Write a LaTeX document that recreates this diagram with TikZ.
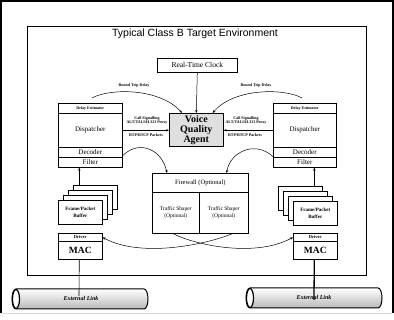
\documentclass[tikz,border=0pt]{standalone}
\usepackage{fontspec}
\setmainfont{Liberation Serif}
\newfontfamily\titlefont{Liberation Sans}
\usetikzlibrary{arrows.meta,calc}
\tikzset{
  box/.style={draw, line width=0.6pt, inner sep=0pt, anchor=north west, fill=white, align=center},
  tinyb/.style={font=\fontsize{4}{4.6}\selectfont\bfseries, inner sep=0pt, align=center},
  arr/.style={-{Stealth[length=3pt,width=2.4pt]}, line width=0.5pt},
  cable/.style={top color=white, bottom color=gray!55, draw=black, line width=1pt},
}
\begin{document}
\begin{tikzpicture}[x=1pt,y=-1pt]
\useasboundingbox (0,0) rectangle (394,320);
% outer frame
\draw[line width=2pt] (1,313) -- (1,1) -- (392.5,1) -- (392.5,313);
\draw[gray!30, line width=0.6pt] (1,313) -- (392.5,313);
% inner frame
\draw[line width=0.8pt] (27,26) rectangle (366,275);
\node[font=\titlefont\fontsize{10.5}{12}\selectfont, inner sep=0pt] (title) at (195,34) {Typical Class B Target Environment};

% clock and VQA
\node[box, minimum width=80pt, minimum height=14pt, font=\fontsize{7.5}{8}\selectfont] (clk) at (157,58) {Real-Time Clock};
\node[box, fill=gray!25, minimum width=54pt, minimum height=33pt, font=\fontsize{10}{10}\selectfont\bfseries] (vqa) at (169,113) {Voice\\Quality\\Agent};
\draw[arr] (clk.south) -- (vqa.north);

% left dispatcher column
\node[box, minimum width=64pt, minimum height=10pt, font=\fontsize{4}{4.6}\selectfont\bfseries] (deL) at (58,103) {Delay Estimator};
\node[box, minimum width=64pt, minimum height=34pt, font=\fontsize{7}{8}\selectfont] (dpL) at (58,113) {Dispatcher};
\node[box, minimum width=64pt, minimum height=10pt, font=\fontsize{7}{8}\selectfont] (dcL) at (58,147) {Decoder};
\node[box, minimum width=64pt, minimum height=10pt, font=\fontsize{7}{8}\selectfont] (flL) at (58,157) {Filter};
% right dispatcher column
\node[box, minimum width=63pt, minimum height=10pt, font=\fontsize{4}{4.6}\selectfont\bfseries] (deR) at (273,103) {Delay Estimator};
\node[box, minimum width=63pt, minimum height=34pt, font=\fontsize{7}{8}\selectfont] (dpR) at (273,113) {Dispatcher};
\node[box, minimum width=63pt, minimum height=10pt, font=\fontsize{7}{8}\selectfont] (dcR) at (273,147) {Decoder};
\node[box, minimum width=63pt, minimum height=10pt, font=\fontsize{7}{8}\selectfont] (flR) at (273,157) {Filter};

% round trip delay arcs
\coordinate (rtLs) at (92,98);
\coordinate (rtRs) at (302,98);
\draw[arr] (rtLs) .. controls (110,88) and (160,88) .. ([xshift=13pt]vqa.north west);
\draw[arr] (rtRs) .. controls (284,88) and (234,88) .. ([xshift=-11pt]vqa.north east);
\node[tinyb] (rtdL) at (134,86) {Round Trip Delay};
\node[tinyb] (rtdR) at (256,86) {Round Trip Delay};

% call signalling
\draw[arr] (dpL.east) -- (dpL.east -| vqa.west);
\draw[arr] (dpR.west) -- (dpR.west -| vqa.east);
\node[tinyb] (csL) at (147,120.5) {Call Signalling\\ALT/TALI/H.323 Proxy};
\node[tinyb] (csR) at (246,120.5) {Call Signalling\\ALT/TALI/H.323 Proxy};
\node[tinyb] (rtpL) at (146,135) {RTP/RTCP Packets};
\node[tinyb] (rtpR) at (245,135) {RTP/RTCP Packets};

% firewall
\node[box, minimum width=96pt, minimum height=19pt, font=\fontsize{6.5}{7}\selectfont] (fw) at (152,173) {Firewall (Optional)};
\node[box, minimum width=47pt, minimum height=41pt, font=\fontsize{5.5}{7}\selectfont] (tsL) at (152,192) {Traffic Shaper\\(Optional)};
\node[box, minimum width=49pt, minimum height=41pt, font=\fontsize{5.5}{7}\selectfont] (tsR) at (199,192) {Traffic Shaper\\(Optional)};

\draw[arr] ([yshift=-8pt]dpL.south east) .. controls (140,139) and (162,150) .. ([xshift=15pt]fw.north west);
\draw[arr] ([yshift=-9pt]dpR.south west) .. controls (255,140) and (230,152) .. ([xshift=-22pt]fw.north east);

% buffers left
\node[box, minimum width=44pt, minimum height=24pt] (bL3) at (72.5,185) {};
\node[box, minimum width=44pt, minimum height=24pt] (bL2) at (67.7,190) {};
\node[box, minimum width=44pt, minimum height=24pt] (bL1) at (62.8,195) {};
\node[box, minimum width=44pt, minimum height=24pt, font=\fontsize{5}{6.5}\selectfont\bfseries] (bL0) at (58,200) {Frame/Packet\\Buffer};
% buffers right
\node[box, minimum width=44pt, minimum height=24pt] (bR3) at (278,186) {};
\node[box, minimum width=44pt, minimum height=24pt] (bR2) at (283,191) {};
\node[box, minimum width=44pt, minimum height=24pt] (bR1) at (288,196) {};
\node[box, minimum width=44pt, minimum height=24pt, font=\fontsize{5}{6.5}\selectfont\bfseries] (bR0) at (293,201) {Frame/Packet\\Buffer};
\draw[arr] ([xshift=-11pt]flL.south |- bL3.north) -- ([xshift=-11pt]flL.south);
\draw[arr] ([xshift=9.5pt]flR.south |- bR3.north) -- ([xshift=9.5pt]flR.south);

% drivers / MAC
\node[box, minimum width=44pt, minimum height=8pt, font=\fontsize{4.5}{5}\selectfont\bfseries] (drL) at (58,233) {Driver};
\node[box, minimum width=44pt, minimum height=18pt, font=\fontsize{9.5}{10}\selectfont\bfseries] (mcL) at (58,241) {MAC};
\node[box, minimum width=44pt, minimum height=8pt, font=\fontsize{4.5}{5}\selectfont\bfseries] (drR) at (293,233) {Driver};
\node[box, minimum width=44pt, minimum height=18pt, font=\fontsize{9.5}{10}\selectfont\bfseries] (mcR) at (293,241) {MAC};

% crossing curves
\draw[arr] ([xshift=-16pt]tsR.south east) .. controls (205,245) and (140,258) .. (drL.east);
\draw[arr] ([xshift=21pt]tsL.south west) .. controls (195,245) and (255,258) .. (drR.west);

% cables
\shade[cable] (16,289) -- (144,289) arc[start angle=-90, end angle=90, x radius=4, y radius=10] -- (16,309) arc[start angle=90, end angle=270, x radius=4, y radius=10] -- cycle;
\draw[line width=1.2pt, fill=white] (16,299) ellipse[x radius=3.5, y radius=9.5];
\shade[cable] (250,288) -- (378,288) arc[start angle=-90, end angle=90, x radius=4, y radius=10] -- (250,308) arc[start angle=90, end angle=270, x radius=4, y radius=10] -- cycle;
\draw[line width=1.2pt, fill=white] (250,298) ellipse[x radius=3.5, y radius=9.5];
\node[font=\fontsize{6}{7}\selectfont\bfseries\itshape, inner sep=0pt] (exL) at (81,298.5) {External Link};
\node[font=\fontsize{6}{7}\selectfont\bfseries\itshape, inner sep=0pt] (exR) at (314,297.5) {External Link};
\coordinate (cL) at (79,296);
\coordinate (cR) at (314,300);
\draw[line width=0.6pt] ([xshift=-1pt]mcL.south) -- (cL);
\draw[line width=1.3pt] ([xshift=-1pt]mcR.south) -- (cR);
\end{tikzpicture}
\end{document}
